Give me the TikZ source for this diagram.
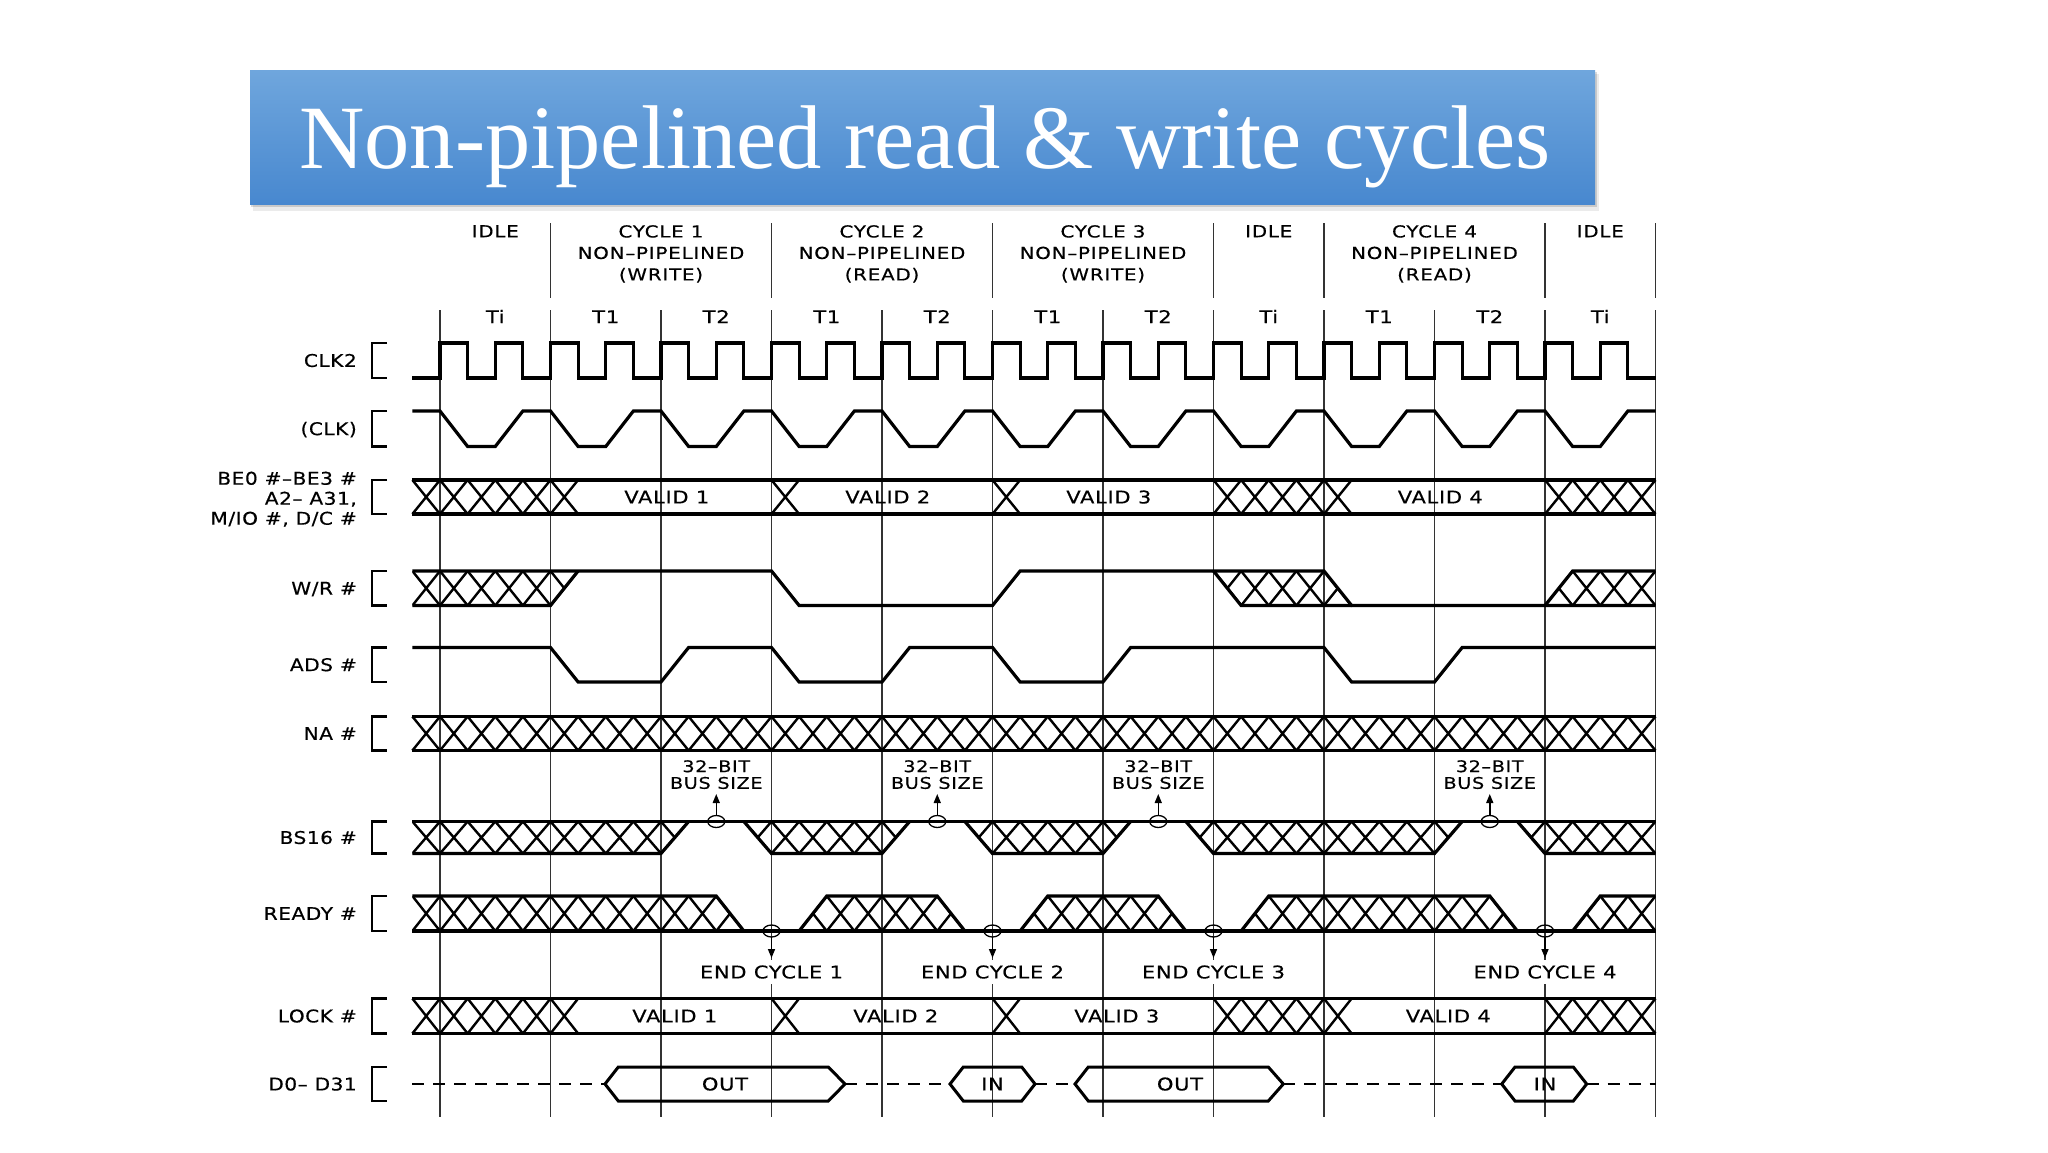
\documentclass[tikz,border=0pt]{standalone}
\usepackage{fontspec}
\setmainfont{DejaVu Sans}
\newfontfamily\titlefont{Liberation Serif}
\newfontfamily\sigfont[FakeStretch=1.2,LetterSpace=4,FakeBold=0.4]{DejaVu Sans}
\newfontfamily\hdrfont[FakeStretch=1.2,LetterSpace=5,FakeBold=0.4]{DejaVu Sans}
\newfontfamily\lblfont[FakeStretch=1.15,LetterSpace=3,FakeBold=0.4]{DejaVu Sans}
\usetikzlibrary{arrows.meta}
\definecolor{tbtop}{RGB}{111,166,221}
\definecolor{tbbot}{RGB}{72,136,207}
\newcommand\hatchq[4]{\foreach \j in {#3,...,#4}{\draw[hl] ({tx(\j/4)},#1) -- ({tx((\j+1)/4)},#2) ({tx(\j/4)},#2) -- ({tx((\j+1)/4)},#1);}}
\begin{document}
\begin{tikzpicture}[x=1pt,y=-1pt,
  declare function={tx(\k)=440+110.5*\k;},
  sig/.style={line width=3.2pt,line join=miter},
  hl/.style={line width=2.4pt},
  grid/.style={line width=1.7pt,black!80},
  brk/.style={line width=2.6pt},
  hexs/.style={line width=3pt,line join=miter},
  dsh/.style={line width=2.2pt,dash pattern=on 12pt off 9pt},
  mk/.style={line width=1.3pt},
  arr/.style={line width=1.5pt,-{Triangle[length=9pt,width=7pt]}},
  txt/.style={font=\sigfont\fontsize{17.5}{20}\selectfont,inner sep=0pt,text height=12.8pt,text depth=0pt},
  lbl/.style={font=\lblfont\fontsize{17.5}{20}\selectfont,inner sep=0pt,text height=12.8pt,text depth=0pt,anchor=east},
  hdr/.style={font=\hdrfont\fontsize{16.5}{21.5}\selectfont,inner sep=0pt,anchor=north,align=center},
  small/.style={font=\sigfont\fontsize{16}{16.7}\selectfont,inner sep=0pt,anchor=north,align=center},
  endc/.style={txt,fill=white,inner xsep=2pt,inner ysep=6pt}]
\useasboundingbox (0,0) rectangle (2048,1152);
\fill[white] (0,0) rectangle (2048,1152);
% title
\fill[black,opacity=.08] (253,74) rectangle (1599,211);
\fill[black,opacity=.14] (251,72) rectangle (1597,207);
\shade[top color=tbtop,bottom color=tbbot] (250,70) rectangle (1595,204);
\node[anchor=base west,inner sep=0pt,text=white,font=\titlefont\fontsize{90.5}{91}\selectfont] (title) at (299,168.3) {Non-pipelined read \& write cycles};
% grid
\foreach \k in {1,3,5,7,8,10,11} \draw[grid] ({tx(\k)},223) -- ({tx(\k)},298);
\foreach \k in {0,...,11} \draw[grid] ({tx(\k)},310) -- ({tx(\k)},1117);
% header
\node[hdr] (h0) at ({tx(0.5)},225) {IDLE};
\node[hdr] (h1) at ({tx(2)},225) {CYCLE 1\\NON–PIPELINED\\(WRITE)};
\node[hdr] (h2) at ({tx(4)},225) {CYCLE 2\\NON–PIPELINED\\(READ)};
\node[hdr] (h3) at ({tx(6)},225) {CYCLE 3\\NON–PIPELINED\\(WRITE)};
\node[hdr] (h4) at ({tx(7.5)},225) {IDLE};
\node[hdr] (h5) at ({tx(9)},225) {CYCLE 4\\NON–PIPELINED\\(READ)};
\node[hdr] (h6) at ({tx(10.5)},225) {IDLE};
\foreach \k/\t in {0/Ti,1/T1,2/T2,3/T1,4/T2,5/T1,6/T2,7/Ti,8/T1,9/T2,10/Ti}
  \node[txt] (t\k) at ({tx(\k+0.5)},316.7) {\t};
% brackets
\foreach \a/\b in {343/378,411/446.5,480/514,571/605.5,647.5/682,716.5/750.5,821.5/853.5,896/931,998.5/1033.5,1067/1101}
  \draw[brk] (387,\a) -- (372,\a) -- (372,\b) -- (387,\b);
% labels
\node[lbl] (lclk2) at (357,360.5) {CLK2};
\node[lbl] (lclk) at (357,428.7) {(CLK)};
\node[font=\lblfont\fontsize{17.5}{20}\selectfont,inner sep=0pt,anchor=north east,align=right] (lbe) at (357,471.5) {BE0 \#–BE3 \#\\A2– A31,\\M/IO \#, D/C \#};
\node[lbl] (lwr) at (357,588.2) {W/R \#};
\node[lbl] (lads) at (357,664.7) {ADS \#};
\node[lbl] (lna) at (357,733.5) {NA \#};
\node[lbl] (lbs) at (357,837.5) {BS16 \#};
\node[lbl] (lrdy) at (357,913.5) {READY \#};
\node[lbl] (llock) at (357,1016) {LOCK \#};
\node[lbl] (ld) at (357,1084) {D0– D31};
% CLK2
\draw[sig] ({tx(-0.25)},378) foreach \i in {0,...,21} { -- ({tx(\i/2)},378) -- ({tx(\i/2)},343) -- ({tx(\i/2+0.25)},343) -- ({tx(\i/2+0.25)},378) } -- ({tx(11)},378);
% CLK
\draw[sig] ({tx(-0.25)},411) foreach \i in {0,...,10} { -- ({tx(\i)},411) -- ({tx(\i+0.25)},446.5) -- ({tx(\i+0.5)},446.5) -- ({tx(\i+0.75)},411) } -- ({tx(11)},411);
% BE bus
\hatchq{480}{514}{-1}{4}\hatchq{480}{514}{12}{12}\hatchq{480}{514}{20}{20}\hatchq{480}{514}{28}{32}\hatchq{480}{514}{40}{43}
\draw[sig] ({tx(-0.25)},480) -- ({tx(11)},480);
\draw[sig] ({tx(-0.25)},514) -- ({tx(11)},514);
\node[txt] (be1) at ({(tx(1.25)+tx(3))/2-8},497) {VALID 1};
\node[txt] (be2) at ({(tx(3.25)+tx(5))/2-8},497) {VALID 2};
\node[txt] (be3) at ({(tx(5.25)+tx(7))/2-8},497) {VALID 3};
\node[txt] (be4) at ({(tx(8.25)+tx(10))/2-8},497) {VALID 4};
% W/R
\begin{scope}\clip ({tx(-0.25)},571) -- ({tx(1.25)},571) -- ({tx(1)},605.5) -- ({tx(-0.25)},605.5) -- cycle; \hatchq{571}{605.5}{-1}{4}\end{scope}
\begin{scope}\clip ({tx(7)},571) -- ({tx(8)},571) -- ({tx(8.25)},605.5) -- ({tx(7.25)},605.5) -- cycle; \hatchq{571}{605.5}{28}{32}\end{scope}
\begin{scope}\clip ({tx(10)},605.5) -- ({tx(10.25)},571) -- ({tx(11)},571) -- ({tx(11)},605.5) -- cycle; \hatchq{571}{605.5}{40}{43}\end{scope}
\draw[sig] ({tx(-0.25)},571) -- ({tx(3)},571) -- ({tx(3.25)},605.5) -- ({tx(5)},605.5) -- ({tx(5.25)},571) -- ({tx(8)},571) -- ({tx(8.25)},605.5) -- ({tx(11)},605.5);
\draw[sig] ({tx(-0.25)},605.5) -- ({tx(1)},605.5) -- ({tx(1.25)},571);
\draw[sig] ({tx(7)},571) -- ({tx(7.25)},605.5) -- ({tx(8.25)},605.5);
\draw[sig] ({tx(10)},605.5) -- ({tx(10.25)},571) -- ({tx(11)},571);
% ADS
\draw[sig] ({tx(-0.25)},647.5) -- ({tx(1)},647.5) -- ({tx(1.25)},682) -- ({tx(2)},682) -- ({tx(2.25)},647.5) -- ({tx(3)},647.5) -- ({tx(3.25)},682) -- ({tx(4)},682) -- ({tx(4.25)},647.5) -- ({tx(5)},647.5) -- ({tx(5.25)},682) -- ({tx(6)},682) -- ({tx(6.25)},647.5) -- ({tx(8)},647.5) -- ({tx(8.25)},682) -- ({tx(9)},682) -- ({tx(9.25)},647.5) -- ({tx(11)},647.5);
% NA
\hatchq{716.5}{750.5}{-1}{43}
\draw[sig] ({tx(-0.25)},716.5) -- ({tx(11)},716.5);
\draw[sig] ({tx(-0.25)},750.5) -- ({tx(11)},750.5);
% BS16
\begin{scope}\clip ({tx(-0.25)},821.5) -- ({tx(2.25)},821.5) -- ({tx(2)},853.5) -- ({tx(-0.25)},853.5) -- cycle; \hatchq{821.5}{853.5}{-1}{8}\end{scope}
\begin{scope}\clip ({tx(2.75)},821.5) -- ({tx(4.25)},821.5) -- ({tx(4)},853.5) -- ({tx(3)},853.5) -- cycle; \hatchq{821.5}{853.5}{11}{16}\end{scope}
\begin{scope}\clip ({tx(4.75)},821.5) -- ({tx(6.25)},821.5) -- ({tx(6)},853.5) -- ({tx(5)},853.5) -- cycle; \hatchq{821.5}{853.5}{19}{24}\end{scope}
\begin{scope}\clip ({tx(6.75)},821.5) -- ({tx(9.25)},821.5) -- ({tx(9)},853.5) -- ({tx(7)},853.5) -- cycle; \hatchq{821.5}{853.5}{27}{36}\end{scope}
\begin{scope}\clip ({tx(9.75)},821.5) -- ({tx(11)},821.5) -- ({tx(11)},853.5) -- ({tx(10)},853.5) -- cycle; \hatchq{821.5}{853.5}{39}{43}\end{scope}
\draw[sig] ({tx(-0.25)},821.5) -- ({tx(11)},821.5);
\draw[sig] ({tx(-0.25)},853.5) -- ({tx(2)},853.5) -- ({tx(2.25)},821.5);
\draw[sig] ({tx(2.75)},821.5) -- ({tx(3)},853.5) -- ({tx(4)},853.5) -- ({tx(4.25)},821.5);
\draw[sig] ({tx(4.75)},821.5) -- ({tx(5)},853.5) -- ({tx(6)},853.5) -- ({tx(6.25)},821.5);
\draw[sig] ({tx(6.75)},821.5) -- ({tx(7)},853.5) -- ({tx(9)},853.5) -- ({tx(9.25)},821.5);
\draw[sig] ({tx(9.75)},821.5) -- ({tx(10)},853.5) -- ({tx(11)},853.5);
\foreach \m in {2.5,4.5,6.5,9.5}{
  \draw[mk] ({tx(\m)},821.5) ellipse [x radius=8.5,y radius=6];
  \draw[arr] ({tx(\m)},815.5) -- ({tx(\m)},794);
}
\node[small] (bs1) at ({tx(2.5)},760) {32–BIT\\BUS SIZE};
\node[small] (bs2) at ({tx(4.5)},760) {32–BIT\\BUS SIZE};
\node[small] (bs3) at ({tx(6.5)},760) {32–BIT\\BUS SIZE};
\node[small] (bs4) at ({tx(9.5)},760) {32–BIT\\BUS SIZE};
% READY
\begin{scope}\clip ({tx(-0.25)},896) -- ({tx(2.5)},896) -- ({tx(2.75)},931) -- ({tx(-0.25)},931) -- cycle; \hatchq{896}{931}{-1}{10}\end{scope}
\begin{scope}\clip ({tx(3.25)},931) -- ({tx(3.5)},896) -- ({tx(4.5)},896) -- ({tx(4.75)},931) -- cycle; \hatchq{896}{931}{13}{18}\end{scope}
\begin{scope}\clip ({tx(5.25)},931) -- ({tx(5.5)},896) -- ({tx(6.5)},896) -- ({tx(6.75)},931) -- cycle; \hatchq{896}{931}{21}{26}\end{scope}
\begin{scope}\clip ({tx(7.25)},931) -- ({tx(7.5)},896) -- ({tx(9.5)},896) -- ({tx(9.75)},931) -- cycle; \hatchq{896}{931}{29}{38}\end{scope}
\begin{scope}\clip ({tx(10.25)},931) -- ({tx(10.5)},896) -- ({tx(11)},896) -- ({tx(11)},931) -- cycle; \hatchq{896}{931}{41}{43}\end{scope}
\draw[sig] ({tx(-0.25)},931) -- ({tx(11)},931);
\draw[sig] ({tx(-0.25)},896) -- ({tx(2.5)},896) -- ({tx(2.75)},931);
\draw[sig] ({tx(3.25)},931) -- ({tx(3.5)},896) -- ({tx(4.5)},896) -- ({tx(4.75)},931);
\draw[sig] ({tx(5.25)},931) -- ({tx(5.5)},896) -- ({tx(6.5)},896) -- ({tx(6.75)},931);
\draw[sig] ({tx(7.25)},931) -- ({tx(7.5)},896) -- ({tx(9.5)},896) -- ({tx(9.75)},931);
\draw[sig] ({tx(10.25)},931) -- ({tx(10.5)},896) -- ({tx(11)},896);
\node[endc] (ec1) at ({tx(3)},972) {END CYCLE 1};
\node[endc] (ec2) at ({tx(5)},972) {END CYCLE 2};
\node[endc] (ec3) at ({tx(7)},972) {END CYCLE 3};
\node[endc] (ec4) at ({tx(10)},972) {END CYCLE 4};
\foreach \m in {3,5,7,10}{
  \draw[mk] ({tx(\m)},931) ellipse [x radius=8.5,y radius=6];
  \draw[arr] ({tx(\m)},937) -- ({tx(\m)},958);
}
% LOCK
\hatchq{998.5}{1033.5}{-1}{4}\hatchq{998.5}{1033.5}{12}{12}\hatchq{998.5}{1033.5}{20}{20}\hatchq{998.5}{1033.5}{28}{32}\hatchq{998.5}{1033.5}{40}{43}
\draw[sig] ({tx(-0.25)},998.5) -- ({tx(11)},998.5);
\draw[sig] ({tx(-0.25)},1033.5) -- ({tx(11)},1033.5);
\node[txt] (lk1) at ({(tx(1.25)+tx(3))/2},1016) {VALID 1};
\node[txt] (lk2) at ({(tx(3.25)+tx(5))/2},1016) {VALID 2};
\node[txt] (lk3) at ({(tx(5.25)+tx(7))/2},1016) {VALID 3};
\node[txt] (lk4) at ({(tx(8.25)+tx(10))/2},1016) {VALID 4};
% D0-D31
\draw[dsh] ({tx(-0.25)},1084) -- (605,1084);
\draw[dsh] (845,1084) -- (950,1084);
\draw[dsh] (1035,1084) -- (1075,1084);
\draw[dsh] (1283.3,1084) -- (1501.7,1084);
\draw[dsh] (1586.7,1084) -- ({tx(11)},1084);
\draw[hexs] (605,1084) -- (618.3,1067) -- (828.3,1067) -- (845,1084) -- (828.3,1101) -- (618.3,1101) -- cycle;
\draw[hexs] (950,1084) -- (963.3,1067) -- (1021.7,1067) -- (1035,1084) -- (1021.7,1101) -- (963.3,1101) -- cycle;
\draw[hexs] (1075,1084) -- (1088.3,1067) -- (1268.3,1067) -- (1283.3,1084) -- (1268.3,1101) -- (1088.3,1101) -- cycle;
\draw[hexs] (1501.7,1084) -- (1515,1067) -- (1573.3,1067) -- (1586.7,1084) -- (1573.3,1101) -- (1515,1101) -- cycle;
\node[txt] (d1) at (725,1084) {OUT};
\node[txt] (d2) at ({tx(5)},1084) {IN};
\node[txt] (d3) at (1180,1084) {OUT};
\node[txt] (d4) at ({tx(10)},1084) {IN};
\end{tikzpicture}
\end{document}
